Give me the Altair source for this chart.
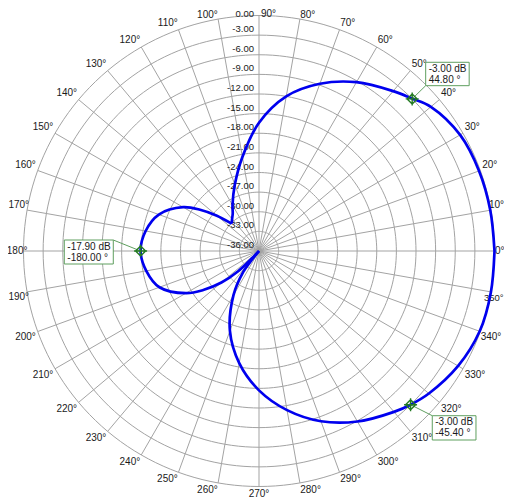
import altair as alt
import pandas as pd

# ---------------- data ----------------
# radiation pattern: angle (deg, counter-clockwise from 0 deg at right) and level (dB)
PATTERN_DEG = [0, 10, 20, 30, 40, 45, 50, 60, 70, 80, 90, 100, 110, 120, 125, 130, 135,
               140, 145, 150, 160, 170, 180, 190, 200, 210, 215, 220, 224, 226, 228.5,
               231, 233, 240, 250, 260, 270, 280, 290, 300, 310, 314.6, 320, 330, 340,
               350, 360]
PATTERN_DB = [0.0, -0.1, -0.2, -0.5, -1.7, -3.0, -4.1, -6.2, -8.8, -12.0, -16.4, -21.4,
              -25.2, -27.9, -29.0, -29.6, -30.1, -27.6, -25.0, -22.6, -19.7, -18.4, -17.9,
              -18.5, -19.8, -23.1, -25.6, -28.5, -31.5, -34.5, -36.0, -34.0, -32.0, -28.2,
              -23.0, -18.6, -14.7, -11.3, -8.3, -5.9, -3.9, -3.0, -2.1, -0.85, -0.1, 0.0, 0.0]
# the two nulls (sharp corners of the curve)
NULL_DEG = [135, 228.5]

RING_DB = [-36, -33, -30, -27, -24, -21, -18, -15, -12, -9, -6, -3, 0]
RING_LABELS = ["-36.00", "-33.00", "-30.00", "-27.00", "-24.00", "-21.00", "-18.00",
               "-15.00", "-12.00", "-9.00", "-6.00", "-3.00", "0.00"]
SPOKE_DEG = list(range(0, 360, 10))
SPOKE_LABELS = [f"{a}°" for a in SPOKE_DEG]

MARKER_DEG = [44.8, -45.4, -180.0]
MARKER_DB = [-3.0, -3.0, -17.9]
MARKER_LINE1 = ["-3.00 dB", "-3.00 dB", "-17.90 dB"]
MARKER_LINE2 = ["44.80 °", "-45.40 °", "-180.00 °"]

# ---------------- layout / style ----------------
W, H = 496, 492          # plot area (pixels)
CX, CY = 251, 243        # pole position inside plot area
R = 235.5                # outer ring radius (px)
DB_MIN = -36.0
# annotation box offsets relative to the marker (screen px: left, right, top, bottom)
BOX_L = [13.5, 21.7, -76.3]
BOX_R = [57.0, 65.4, -27.3]
BOX_T = [-36.6, 11.0, -11.0]
BOX_B = [-13.2, 35.3, 13.0]
CONN_X = ["l", "l", "r"]
CONN_Y = ["b", "t", "t"]

GRID = "#a3a3a3"
BLUE = "#0000ee"
MARK_GREEN = "#237a23"
BOX_GREEN = "#5f9f5f"
TXT = "#1a1a1a"
FONT = "Liberation Sans"

xs = alt.Scale(domain=[-CX, W - CX], nice=False, zero=False)
ys = alt.Scale(domain=[-(H - CY), CY], nice=False, zero=False)

RAD = f"max(0, (datum.db - ({DB_MIN})) / {-DB_MIN}) * {R}"
XEXP = "datum.r * cos(datum.a * PI / 180)"
YEXP = "datum.r * sin(datum.a * PI / 180)"


def X(f):
    return alt.X(f"{f}:Q", scale=xs, axis=None)


def Y(f):
    return alt.Y(f"{f}:Q", scale=ys, axis=None)


# ---------------- rings ----------------
ring_df = pd.DataFrame({"db": RING_DB[1:]}).merge(
    pd.DataFrame({"a": list(range(0, 361, 2))}), how="cross")
rings = alt.Chart(ring_df).transform_calculate(r=RAD).transform_calculate(
    x=XEXP, y=YEXP).mark_line(stroke=GRID, strokeWidth=1).encode(
    x=X("x"), y=Y("y"), detail="db:N", order="a:Q")

# ---------------- spokes ----------------
spoke_df = pd.DataFrame({"a": SPOKE_DEG, "label": SPOKE_LABELS})
spokes = alt.Chart(spoke_df).transform_calculate(
    r=f"{R}", x0="0", y0="0").transform_calculate(
    x=XEXP, y=YEXP).mark_rule(stroke=GRID, strokeWidth=1).encode(
    x=X("x0"), y=Y("y0"), x2="x:Q", y2="y:Q")

# ---------------- angle labels ----------------
lab_base = alt.Chart(spoke_df).transform_calculate(r=f"{R + 2}").transform_calculate(
    x=XEXP, y=YEXP)


def ang_layer(cond, align, baseline, dx=0, dy=0, size=10):
    return lab_base.transform_filter(cond).mark_text(
        align=align, baseline=baseline, dx=dx, dy=dy, font=FONT, fontSize=size,
        color=TXT).encode(x=X("x"), y=Y("y"), text="label:N")


ang_labels = [
    ang_layer("datum.a == 0", "left", "middle", dx=-1.5),
    ang_layer("datum.a == 10", "left", "bottom", dx=-4),
    ang_layer("datum.a > 10 && datum.a < 80", "left", "bottom"),
    ang_layer("datum.a == 80", "left", "alphabetic", dy=0.8),
    ang_layer("datum.a == 90", "left", "alphabetic", dx=2, dy=3.5),
    ang_layer("datum.a == 100", "right", "alphabetic", dy=0.8),
    ang_layer("datum.a > 100 && datum.a < 170", "right", "bottom"),
    ang_layer("datum.a == 170", "right", "bottom", dx=4),
    ang_layer("datum.a == 180", "right", "middle", dx=6),
    ang_layer("datum.a == 190", "right", "top", dx=4),
    ang_layer("datum.a > 190 && datum.a < 270", "right", "top"),
    ang_layer("datum.a == 270", "center", "top"),
    ang_layer("datum.a > 270 && datum.a < 340", "left", "top"),
    ang_layer("datum.a == 340", "left", "top", dx=-1.5),
    ang_layer("datum.a == 350", "left", "top", dx=-9, dy=1, size=9.5),
]

# ---------------- radial labels ----------------
rlab_df = pd.DataFrame({"db": RING_DB, "label": RING_LABELS})
rlab_base = alt.Chart(rlab_df).transform_calculate(r=RAD, x="0")
rlab1 = rlab_base.transform_filter("datum.db < 0").mark_text(
    align="right", baseline="bottom", dx=-5, dy=-1, font=FONT, fontSize=9.5,
    color=TXT).encode(x=X("x"), y=Y("r"), text="label:N")
rlab2 = rlab_base.transform_filter("datum.db == 0").mark_text(
    align="right", baseline="alphabetic", dx=-5, dy=1.5, font=FONT, fontSize=9.5,
    color=TXT).encode(x=X("x"), y=Y("r"), text="label:N")

# ---------------- pattern curve (smooth pieces joined at the nulls) ----------------
rows = []
seg = 0
for i, (a, d) in enumerate(zip(PATTERN_DEG, PATTERN_DB)):
    rows.append({"a": a, "db": d, "seg": seg, "i": i})
    if a in NULL_DEG:
        seg += 1
        rows.append({"a": a, "db": d, "seg": seg, "i": i})
pat_df = pd.DataFrame(rows)
curve = alt.Chart(pat_df).transform_calculate(r=RAD).transform_calculate(
    x=XEXP, y=YEXP).mark_line(color=BLUE, strokeWidth=2.7, strokeJoin="round",
                              interpolate="catmull-rom").encode(
    x=X("x"), y=Y("y"), detail="seg:N", order="i:Q")

# ---------------- markers and annotation boxes ----------------
mk_df = pd.DataFrame({"a": MARKER_DEG, "db": MARKER_DB, "l1": MARKER_LINE1,
                      "l2": MARKER_LINE2, "bl": BOX_L, "br": BOX_R, "bt": BOX_T,
                      "bb": BOX_B, "cxk": CONN_X, "cyk": CONN_Y})
mk_base = alt.Chart(mk_df).transform_calculate(r=RAD).transform_calculate(
    x=XEXP, y=YEXP).transform_calculate(
    bx1="datum.x + datum.bl", bx2="datum.x + datum.br",
    by1="datum.y - datum.bt", by2="datum.y - datum.bb",
    tx="datum.x + datum.bl + 3",
    ty1="datum.y - datum.bt - 6.5", ty2="datum.y - datum.bt - 17.5",
    kx="datum.cxk == 'l' ? datum.x + datum.bl : datum.x + datum.br",
    ky="datum.cyk == 't' ? datum.y - datum.bt : datum.y - datum.bb")

connectors = mk_base.mark_rule(stroke=BOX_GREEN, strokeWidth=1).encode(
    x=X("x"), y=Y("y"), x2="kx:Q", y2="ky:Q")
DIAMOND = "M0,-0.77L0.77,0L0,0.77L-0.77,0Z M0,-1V1 M-1,0H1"
markers = mk_base.mark_point(shape=DIAMOND, size=169, filled=False, stroke=MARK_GREEN,
                             strokeWidth=1.4, opacity=1).encode(x=X("x"), y=Y("y"))
boxes = mk_base.mark_rect(fill="white", stroke=BOX_GREEN, strokeWidth=1).encode(
    x=X("bx1"), x2="bx2:Q", y=Y("by1"), y2="by2:Q")
btxt1 = mk_base.mark_text(align="left", baseline="middle", font=FONT, fontSize=10,
                          color=TXT).encode(x=X("tx"), y=Y("ty1"), text="l1:N")
btxt2 = mk_base.mark_text(align="left", baseline="middle", font=FONT, fontSize=10,
                          color=TXT).encode(x=X("tx"), y=Y("ty2"), text="l2:N")

chart = alt.layer(
    rings, spokes, *ang_labels, rlab1, rlab2, curve, connectors, markers, boxes,
    btxt1, btxt2
).properties(
    width=W, height=H, padding=0,
    autosize=alt.AutoSizeParams(type="none"),
    background="white",
).configure_view(strokeWidth=0)

chart.save("out.html", embed_options={"renderer": "svg", "actions": False})
